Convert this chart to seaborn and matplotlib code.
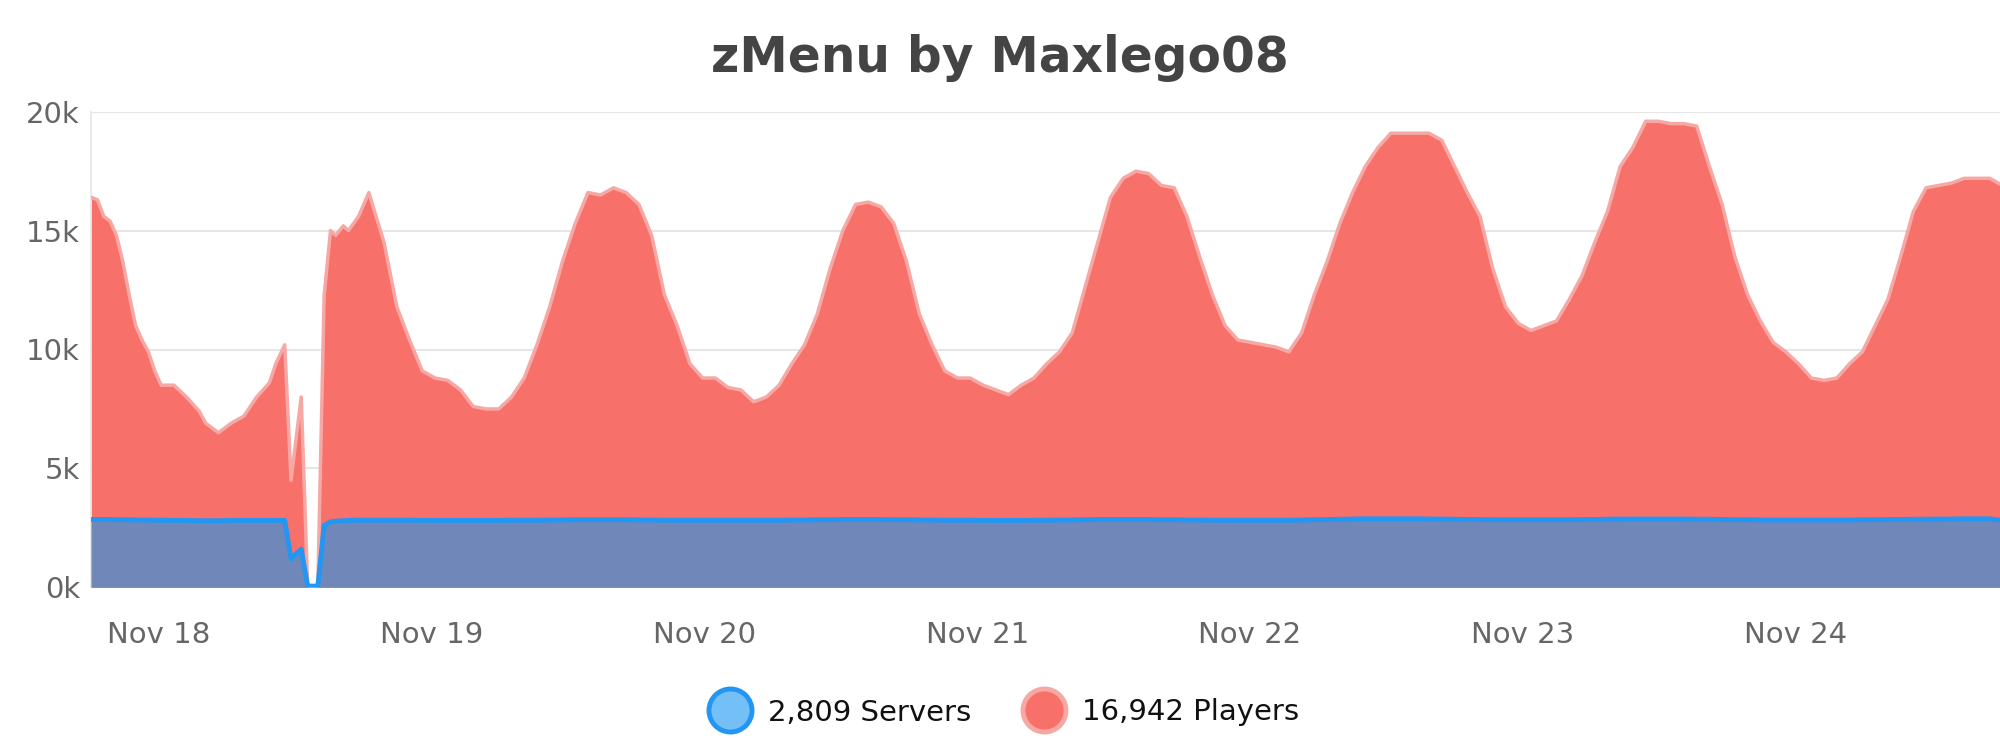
import numpy as np
import pandas as pd
import matplotlib
matplotlib.use("Agg")
import matplotlib.pyplot as plt
from matplotlib.lines import Line2D
import seaborn as sns

sns.set_theme(style="white")
plt.rcParams['font.family'] = ['DejaVu Sans']

start = pd.Timestamp("2023-11-17 18:00")

# irregular early samples (hours after start)
early_hours = [0, 0.56, 1.12, 1.68, 2.24, 2.8, 3.36, 3.93, 4.49, 5.05, 5.61, 6.17, 7.29, 8.41,
               9.53, 10.09, 11.21, 12.34, 13.46, 14.58, 15.7, 16.26, 17.05, 17.6, 18.5, 19.07,
               19.96, 20.52, 21.08, 21.53, 22.2, 22.65, 23.55, 24.45]
early_players = [16.4, 16.3, 15.6, 15.4, 14.8, 13.7, 12.3, 11.0, 10.4, 9.9, 9.1, 8.5, 8.5, 8.0,
                 7.4, 6.9, 6.5, 6.9, 7.2, 8.0, 8.6, 9.4, 10.2, 4.5, 8.0, 0.0,
                 0.0, 12.3, 15.0, 14.8, 15.2, 15.0, 15.6, 16.6]
early_servers = [2.85, 2.85, 2.85, 2.85, 2.84, 2.84, 2.84, 2.83, 2.83, 2.83, 2.82, 2.82, 2.81, 2.81,
                 2.80, 2.80, 2.80, 2.81, 2.81, 2.81, 2.81, 2.81, 2.81, 1.2, 1.6, 0.05,
                 0.05, 2.6, 2.75, 2.78, 2.80, 2.81, 2.82, 2.82]

# regular samples afterwards (every ~67 minutes from 25.79 h)
reg_start_hour = 25.79
reg_step_hours = 1.1215
reg_players = [
    14.5, 11.8, 10.4, 9.1, 8.8, 8.7, 8.3, 7.6, 7.5, 7.5,
    8.0, 8.8, 10.2, 11.8, 13.7, 15.3, 16.6, 16.5, 16.8, 16.6,
    16.1, 14.8, 12.3, 11.0, 9.4, 8.8, 8.8, 8.4, 8.3, 7.8,
    8.0, 8.5, 9.4, 10.2, 11.5, 13.4, 15.0, 16.1, 16.2, 16.0,
    15.3, 13.7, 11.5, 10.2, 9.1, 8.8, 8.8, 8.5, 8.3, 8.1,
    8.5, 8.8, 9.4, 9.9, 10.7, 12.6, 14.5, 16.4, 17.2, 17.5,
    17.4, 16.9, 16.8, 15.6, 13.9, 12.3, 11.0, 10.4, 10.3, 10.2,
    10.1, 9.9, 10.7, 12.3, 13.7, 15.3, 16.6, 17.7, 18.5, 19.1,
    19.1, 19.1, 19.1, 18.8, 17.7, 16.6, 15.6, 13.4, 11.8, 11.1,
    10.8, 11.0, 11.2, 12.1, 13.1, 14.5, 15.8, 17.7, 18.5, 19.6,
    19.6, 19.5, 19.5, 19.4, 17.7, 16.1, 13.9, 12.3, 11.2, 10.3,
    9.9, 9.4, 8.8, 8.7, 8.8, 9.4, 9.9, 11.0, 12.1, 13.9,
    15.8, 16.8, 16.9, 17.0, 17.2, 17.2, 17.2, 16.9]
reg_servers = [
    2.82, 2.82, 2.82, 2.81, 2.81, 2.81, 2.81, 2.81, 2.81, 2.81,
    2.82, 2.82, 2.82, 2.83, 2.83, 2.84, 2.84, 2.84, 2.84, 2.84,
    2.83, 2.83, 2.82, 2.82, 2.82, 2.82, 2.82, 2.82, 2.82, 2.82,
    2.82, 2.82, 2.83, 2.83, 2.84, 2.84, 2.85, 2.85, 2.85, 2.85,
    2.84, 2.84, 2.83, 2.83, 2.82, 2.82, 2.82, 2.81, 2.81, 2.81,
    2.81, 2.82, 2.82, 2.83, 2.83, 2.84, 2.85, 2.85, 2.85, 2.85,
    2.85, 2.84, 2.84, 2.83, 2.83, 2.82, 2.82, 2.82, 2.82, 2.82,
    2.82, 2.82, 2.83, 2.84, 2.85, 2.86, 2.87, 2.88, 2.88, 2.88,
    2.88, 2.88, 2.87, 2.87, 2.86, 2.85, 2.85, 2.84, 2.84, 2.84,
    2.84, 2.84, 2.84, 2.84, 2.85, 2.85, 2.86, 2.87, 2.87, 2.87,
    2.87, 2.87, 2.87, 2.86, 2.86, 2.85, 2.84, 2.84, 2.83, 2.83,
    2.83, 2.83, 2.83, 2.83, 2.83, 2.83, 2.84, 2.84, 2.85, 2.85,
    2.86, 2.86, 2.87, 2.87, 2.88, 2.88, 2.88, 2.81]

reg_hours = list(reg_start_hour + reg_step_hours * np.arange(len(reg_players)))
hours = np.array(early_hours + reg_hours)
players = np.array(early_players + reg_players) * 1000
servers = np.array(early_servers + reg_servers) * 1000
times = start + pd.to_timedelta(hours, unit="h")
df = pd.DataFrame({"time": times, "players": players, "servers": servers})

red = "#F7706A"
red_edge = "#F6A8A4"
blue_fill = "#7087BA"
blue_line = "#2196F3"

fig = plt.figure(figsize=(20, 7.5), dpi=100)
ax = fig.add_axes([0.0455, 0.217, 0.9545, 0.634])

ax.fill_between(df["time"], 0, df["players"], color=red, lw=0, zorder=2)
sns.lineplot(data=df, x="time", y="players", ax=ax, color=red_edge, lw=2.5, zorder=3)
ax.fill_between(df["time"], 0, df["servers"], color=blue_fill, lw=0, zorder=4)
sns.lineplot(data=df, x="time", y="servers", ax=ax, color=blue_line, lw=3.5, zorder=5)

ax.set_xlim(start, start + pd.Timedelta(days=7))
ax.set_ylim(0, 20000)
ax.set_yticks([0, 5000, 10000, 15000, 20000])
ax.set_yticklabels(["0k", "5k", "10k", "15k", "20k"])
ticks = pd.date_range("2023-11-18", "2023-11-24", freq="D")
ax.set_xticks(ticks)
ax.set_xticklabels([t.strftime("%b %d").replace(" 0", " ") for t in ticks])
ax.set_xlabel("")
ax.set_ylabel("")
ax.grid(axis="y", color="#E6E6E6", lw=1.5, zorder=0)
for s in ["top", "right", "bottom"]:
    ax.spines[s].set_visible(False)
ax.spines["left"].set_color("#E6E6E6")
ax.tick_params(axis="both", colors="#666666", labelsize=21, length=0)
ax.tick_params(axis="x", pad=24)
ax.tick_params(axis="y", pad=8)
ax.set_axisbelow(True)

fig.text(0.5, 0.922, "zMenu by Maxlego08", ha="center", va="center",
         fontsize=35, fontweight="bold", color="#444444")

handles = [
    Line2D([], [], marker="o", ls="", markersize=31, markerfacecolor="#74BFF5",
           markeredgecolor=blue_line, markeredgewidth=3.5),
    Line2D([], [], marker="o", ls="", markersize=31, markerfacecolor=red,
           markeredgecolor=red_edge, markeredgewidth=3.5),
]
fig.legend(handles, ["2,809 Servers", "16,942 Players"], loc="center",
           bbox_to_anchor=(0.5, 0.05), ncol=2, frameon=False, fontsize=21,
           handletextpad=0.3, columnspacing=1.5, labelcolor="#111111")

fig.savefig("out.png", dpi=100)
